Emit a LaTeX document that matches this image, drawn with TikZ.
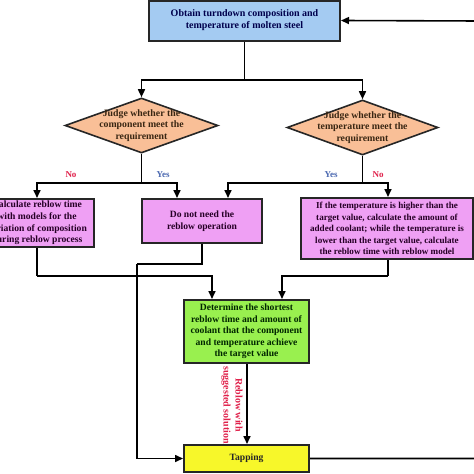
\documentclass[tikz,border=0pt]{standalone}
\usepackage{fontspec}
\setmainfont{Liberation Serif}
\usetikzlibrary{arrows.meta,shapes.geometric,calc}
\definecolor{cblue}{HTML}{A4CBF2}
\definecolor{cpeach}{HTML}{F9BF97}
\definecolor{cpink}{HTML}{EFA0F4}
\definecolor{cgreen}{HTML}{99F04F}
\definecolor{cyellow}{HTML}{F7F72A}
\definecolor{cno}{HTML}{E0204A}
\definecolor{cyes}{HTML}{4A68B0}
\tikzset{
  txt/.style={font=\fontsize{9.6}{11.6}\selectfont\bfseries, align=center, inner sep=0pt},
  box/.style={draw=black!85, line width=2pt, inner sep=0pt, txt},
  topbox/.style={box, fill=cblue, text=blue!30!black, minimum width=191pt, minimum height=40pt},
  judge/.style={diamond, draw=black!85, line width=1.6pt, fill=cpeach, inner sep=0pt},
  pinkbox/.style={box, fill=cpink, text=violet!30!black},
  greenbox/.style={box, fill=cgreen, text=green!15!black, minimum width=125pt, minimum height=63pt},
  tapbox/.style={box, fill=cyellow, text=black!85, minimum width=125pt, minimum height=27pt},
  conn/.style={line width=1.6pt, black},
  arr/.style={conn, -{Triangle[length=8pt,width=7pt]}},
  nolab/.style={txt, text=cno, font=\fontsize{9}{10}\selectfont\bfseries},
  yeslab/.style={txt, text=cyes, font=\fontsize{9}{10}\selectfont\bfseries},
}
\begin{document}
\begin{tikzpicture}[x=1pt,y=-1pt]
\clip (0,0) rectangle (474,474);
\fill[white] (0,0) rectangle (474,474);
% nodes
\node[topbox, font=\fontsize{10}{12}\selectfont\bfseries] (top) at (244.5,20.5) {Obtain turndown composition and\\temperature of molten steel};
\node[judge, minimum width=153pt, minimum height=55pt] (dl) at (141.5,125.5) {};
\node[txt, text=brown!30!black, font=\fontsize{9.8}{11.8}\selectfont\bfseries] (dlt) at (dl.center) {Judge whether the\\component meet the\\requirement};
\node[judge, minimum width=151pt, minimum height=55pt] (dr) at (362.5,127.5) {};
\node[txt, text=brown!30!black, font=\fontsize{9.8}{11.8}\selectfont\bfseries] (drt) at (dr.center) {Judge whether the\\temperature meet the\\requirement};
\node[pinkbox, minimum width=114pt, minimum height=48pt] (bl) at (37,223) {Calculate reblow time\\with models for the\\variation of composition\\during reblow process};
\node[pinkbox, minimum width=120pt, minimum height=44pt] (bm) at (202,221) {Do not need the\\reblow operation};
\node[pinkbox, minimum width=172pt, minimum height=61pt, font=\fontsize{9.1}{11.6}\selectfont\bfseries] (br) at (387,228.5) {If the temperature is higher than the\\target value, calculate the amount of\\added coolant; while the temperature is\\lower than the target value, calculate\\the reblow time with reblow model};
\node[greenbox] (gr) at (246.5,331.5) {Determine the shortest\\reblow time and amount of\\coolant that the component\\and temperature achieve\\the target value};
\node[tapbox] (tap) at (246.5,458.5) {Tapping};
% labels
\node[nolab] (no1) at (71,175) {No};
\node[yeslab] (yes1) at (163,175) {Yes};
\node[yeslab] (yes2) at (331,175) {Yes};
\node[nolab] (no2) at (378,175) {No};
\node[txt, text=cno, rotate=-90, font=\fontsize{10}{12}\selectfont\bfseries] (rlab) at (232,405) {Reblow with\\suggested solution};
% junctions
\coordinate (j1) at (244.5,80);
\coordinate (j2) at (141.5,183);
\coordinate (j3) at (362.5,183);
\coordinate (k1) at (37,276);
\coordinate (k2) at (388,276);
\coordinate (k3) at (202,264);
\coordinate (k4) at (137,264);
\coordinate (r1) at (480,458.5);
\coordinate (r2) at (480,21);
% connectors
\draw[conn] (top.south) -- (j1);
\draw[arr] (j1) -| (dl.north);
\draw[arr] (j1) -| (dr.north);
\draw[conn] (dl.south) -- (j2);
\draw[arr] (j2) -| (bl.north);
\draw[arr] (j2) -| ([xshift=-25pt]bm.north);
\draw[conn] (dr.south) -- (j3);
\draw[arr] (j3) -| ([xshift=26pt]bm.north);
\draw[arr] (j3) -| ([xshift=1pt]br.north);
\draw[conn] (bl.south) -- (k1);
\draw[arr] (k1) -| ([xshift=-34.5pt]gr.north);
\draw[conn] ([xshift=1pt]br.south) -- (k2);
\draw[arr] (k2) -| ([xshift=35.5pt]gr.north);
\draw[conn] (bm.south) -- (k3) -- (k4);
\draw[arr] (k4) |- (tap.west);
\draw[arr] ([xshift=0.5pt]gr.south) -- ([xshift=0.5pt]tap.north);
\draw[arr] (tap.east) -- (r1) -- (r2) -- (top.east);
\end{tikzpicture}
\end{document}
